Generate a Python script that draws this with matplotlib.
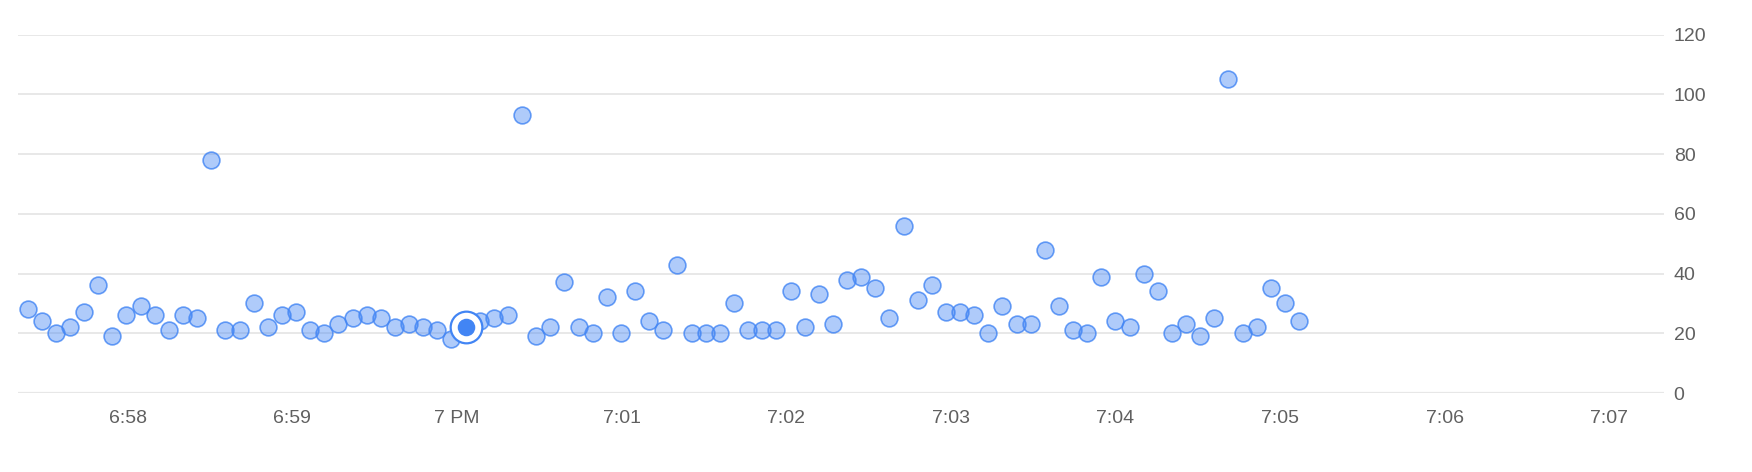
"""
Scatter of response values over a ten minute window,
with one hovered point drawn as a ring
"""

import numpy as np
import pandas as pd

import matplotlib
matplotlib.use("Agg")
import matplotlib.pyplot as plt
import matplotlib.dates as mdates
from matplotlib.ticker import FuncFormatter


# sampled values, one every ~5 seconds
start_time = "2024-05-01 18:57:23.5"
sample_step = "5150ms"
values = [28, 24, 20, 22, 27, 36, 19, 26, 29, 26,
          21, 26, 25, 78, 21, 21, 30, 22, 26, 27,
          21, 20, 23, 25, 26, 25, 22, 23, 22, 21,
          18, 22, 24, 25, 26, 93, 19, 22, 37, 22,
          20, 32, 20, 34, 24, 21, 43, 20, 20, 20,
          30, 21, 21, 21, 34, 22, 33, 23, 38, 39,
          35, 25, 56, 31, 36, 27, 27, 26, 20, 29,
          23, 23, 48, 29, 21, 20, 39, 24, 22, 40,
          34, 20, 23, 19, 25, 105, 20, 22, 35, 30, 24]
highlight_idx = 31

x_start = "2024-05-01 18:57:20"
x_end = "2024-05-01 19:07:20"
y_ticks = [0, 20, 40, 60, 80, 100, 120]

BLUE = "#4285f4"
TEXT = "#606060"


def time_label(x, pos=None) -> str:
    """6:58 style labels, with the full hour written as '7 PM'"""
    t = mdates.num2date(x)
    hour = t.hour % 12 or 12
    if t.minute == 0:
        return f"{hour} {'PM' if t.hour >= 12 else 'AM'}"
    return f"{hour}:{t.minute:02d}"


times = pd.date_range(start_time, periods=len(values), freq=sample_step)

plt.rcParams["font.family"] = ["Liberation Sans", "DejaVu Sans"]

fig = plt.figure(figsize=(17.52, 4.72), dpi=100)
ax = fig.add_axes([18 / 1752, 1 - 393 / 472, 1646 / 1752, 358.4 / 472])

ax.scatter(times, values, s=145, color=(66/255, 133/255, 244/255, 0.42),
           edgecolors=(66/255, 133/255, 244/255, 0.8), linewidths=1.2,
           zorder=3, clip_on=False)

# hovered point: white ring with a solid dot
ax.scatter([times[highlight_idx]], [values[highlight_idx]], s=520, color="white",
           edgecolors=BLUE, linewidths=1.6, zorder=4, clip_on=False)
ax.scatter([times[highlight_idx]], [values[highlight_idx]], s=160, color=BLUE,
           linewidths=0, zorder=5, clip_on=False)

ax.set_xlim(pd.Timestamp(x_start), pd.Timestamp(x_end))
ax.set_ylim(0, 120)

ax.xaxis.set_major_locator(mdates.MinuteLocator(interval=1))
ax.xaxis.set_major_formatter(FuncFormatter(time_label))

ax.yaxis.tick_right()
ax.set_yticks(y_ticks)

ax.tick_params(axis="x", length=0, pad=12, labelsize=14, colors=TEXT)
ax.tick_params(axis="y", length=0, pad=7, labelsize=14, colors=TEXT)
for lbl in ax.get_yticklabels():
    lbl.set_horizontalalignment("left")

ax.grid(axis="y", color="#e8e8e8", linewidth=1.4, zorder=0)
ax.axhline(0, color="#cfcfcf", linewidth=1.5, zorder=1)

for side in ["top", "right", "bottom", "left"]:
    ax.spines[side].set_visible(False)

fig.savefig("out.png", dpi=100, facecolor="white")
